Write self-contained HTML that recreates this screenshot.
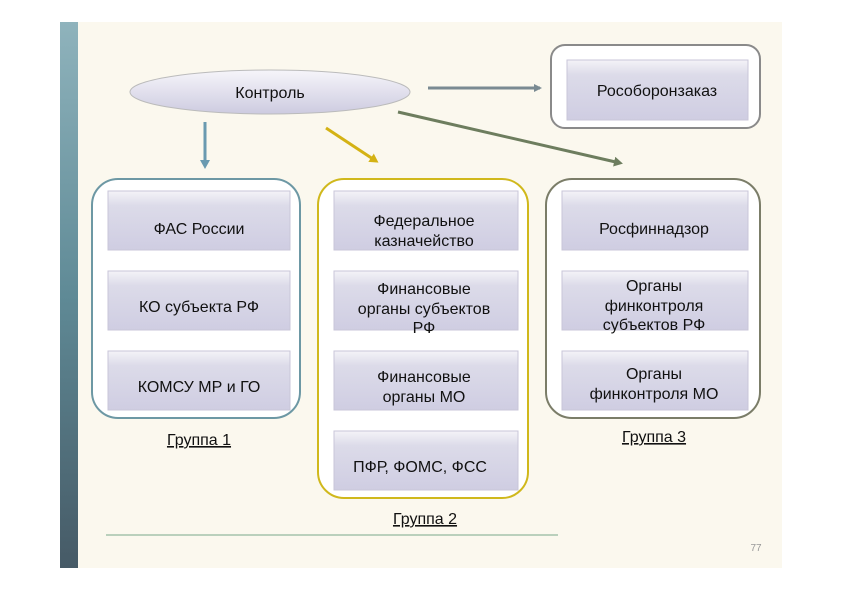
<!DOCTYPE html>
<html><head><meta charset="utf-8"><style>
html,body{margin:0;padding:0;background:#fff;width:842px;height:595px;overflow:hidden}
svg text{font-family:"Liberation Sans","DejaVu Sans",sans-serif;fill:#111;font-size:16px}
</style></head><body>
<svg width="842" height="595" viewBox="0 0 842 595" xmlns="http://www.w3.org/2000/svg">
<defs>
<linearGradient id="bar" x1="0" y1="0" x2="0" y2="1"><stop offset="0" stop-color="#8fb3bc"/><stop offset="0.5" stop-color="#5f8a96"/><stop offset="1" stop-color="#465a66"/></linearGradient>
<linearGradient id="box" x1="0" y1="0" x2="0" y2="1"><stop offset="0" stop-color="#f4f3f8"/><stop offset="0.25" stop-color="#dcdbe9"/><stop offset="1" stop-color="#cfcde2"/></linearGradient>
<linearGradient id="ell" x1="0" y1="0" x2="0" y2="1"><stop offset="0" stop-color="#f6f5fa"/><stop offset="1" stop-color="#cdcbe0"/></linearGradient>
<marker id="mg" markerWidth="8" markerHeight="8" refX="6" refY="4" orient="auto" markerUnits="userSpaceOnUse"><path d="M0,0 L8,4 L0,8 z" fill="#7a8a92"/></marker>
<marker id="mb" markerWidth="10" markerHeight="10" refX="6" refY="5" orient="auto" markerUnits="userSpaceOnUse"><path d="M0,0 L9,5 L0,10 z" fill="#6a9ab0"/></marker>
<marker id="my" markerWidth="10" markerHeight="10" refX="6" refY="5" orient="auto" markerUnits="userSpaceOnUse"><path d="M0,0 L9,5 L0,10 z" fill="#d4b214"/></marker>
<marker id="mo" markerWidth="10" markerHeight="10" refX="6" refY="5" orient="auto" markerUnits="userSpaceOnUse"><path d="M0,0 L9,5 L0,10 z" fill="#6d7d5e"/></marker>
</defs>
<rect x="60" y="22" width="722" height="546" fill="#fbf8ee"/>
<rect x="60" y="22" width="18" height="546" fill="url(#bar)"/>

<ellipse cx="270" cy="92" rx="140" ry="22" fill="url(#ell)" stroke="#bbb" stroke-width="1"/>
<text x="270" y="98" text-anchor="middle">Контроль</text>

<rect x="551" y="45" width="209" height="83" rx="14" fill="#fff" stroke="#8a8a8a" stroke-width="2"/>
<rect x="567" y="60" width="181" height="60" fill="url(#box)" stroke="#c8c6d8"/>
<text x="657" y="96" text-anchor="middle">Рособоронзаказ</text>

<line x1="428" y1="88" x2="540" y2="88" stroke="#7a8a92" stroke-width="3" marker-end="url(#mg)"/>
<line x1="398" y1="112" x2="620" y2="163" stroke="#6d7d5e" stroke-width="3" marker-end="url(#mo)"/>
<line x1="205" y1="122" x2="205" y2="166" stroke="#6a9ab0" stroke-width="3" marker-end="url(#mb)"/>
<line x1="326" y1="128" x2="376" y2="161" stroke="#d4b214" stroke-width="3" marker-end="url(#my)"/>

<rect x="92" y="179" width="208" height="239" rx="26" fill="#fff" stroke="#6d98a4" stroke-width="2"/>
<rect x="318" y="179" width="210" height="319" rx="26" fill="#fff" stroke="#d0b81c" stroke-width="2"/>
<rect x="546" y="179" width="214" height="239" rx="26" fill="#fff" stroke="#7b7d68" stroke-width="2"/>

<g stroke="#c8c6d8">
<rect x="108" y="191" width="182" height="59" fill="url(#box)"/>
<rect x="108" y="271" width="182" height="59" fill="url(#box)"/>
<rect x="108" y="351" width="182" height="59" fill="url(#box)"/>
<rect x="334" y="191" width="184" height="59" fill="url(#box)"/>
<rect x="334" y="271" width="184" height="59" fill="url(#box)"/>
<rect x="334" y="351" width="184" height="59" fill="url(#box)"/>
<rect x="334" y="431" width="184" height="59" fill="url(#box)"/>
<rect x="562" y="191" width="186" height="59" fill="url(#box)"/>
<rect x="562" y="271" width="186" height="59" fill="url(#box)"/>
<rect x="562" y="351" width="186" height="59" fill="url(#box)"/>
</g>

<g text-anchor="middle">
<text x="199" y="234">ФАС России</text>
<text x="199" y="312">КО субъекта РФ</text>
<text x="199" y="392">КОМСУ МР и ГО</text>
<text x="424" y="226">Федеральное</text>
<text x="424" y="246">казначейство</text>
<text x="424" y="294">Финансовые</text>
<text x="424" y="314">органы субъектов</text>
<text x="424" y="333">РФ</text>
<text x="424" y="382">Финансовые</text>
<text x="424" y="402">органы МО</text>
<text x="420" y="472">ПФР, ФОМС, ФСС</text>
<text x="654" y="234">Росфиннадзор</text>
<text x="654" y="291">Органы</text>
<text x="654" y="311">финконтроля</text>
<text x="654" y="330">субъектов РФ</text>
<text x="654" y="379">Органы</text>
<text x="654" y="399">финконтроля МО</text>
<text x="199" y="445" text-decoration="underline">Группа 1</text>
<text x="425" y="524" text-decoration="underline">Группа 2</text>
<text x="654" y="442" text-decoration="underline">Группа 3</text>
</g>
<line x1="106" y1="535" x2="558" y2="535" stroke="#7aa88a" stroke-width="1"/>
<text x="756" y="551" text-anchor="middle" style="font-size:10px;fill:#999">77</text>
</svg>
</body></html>
